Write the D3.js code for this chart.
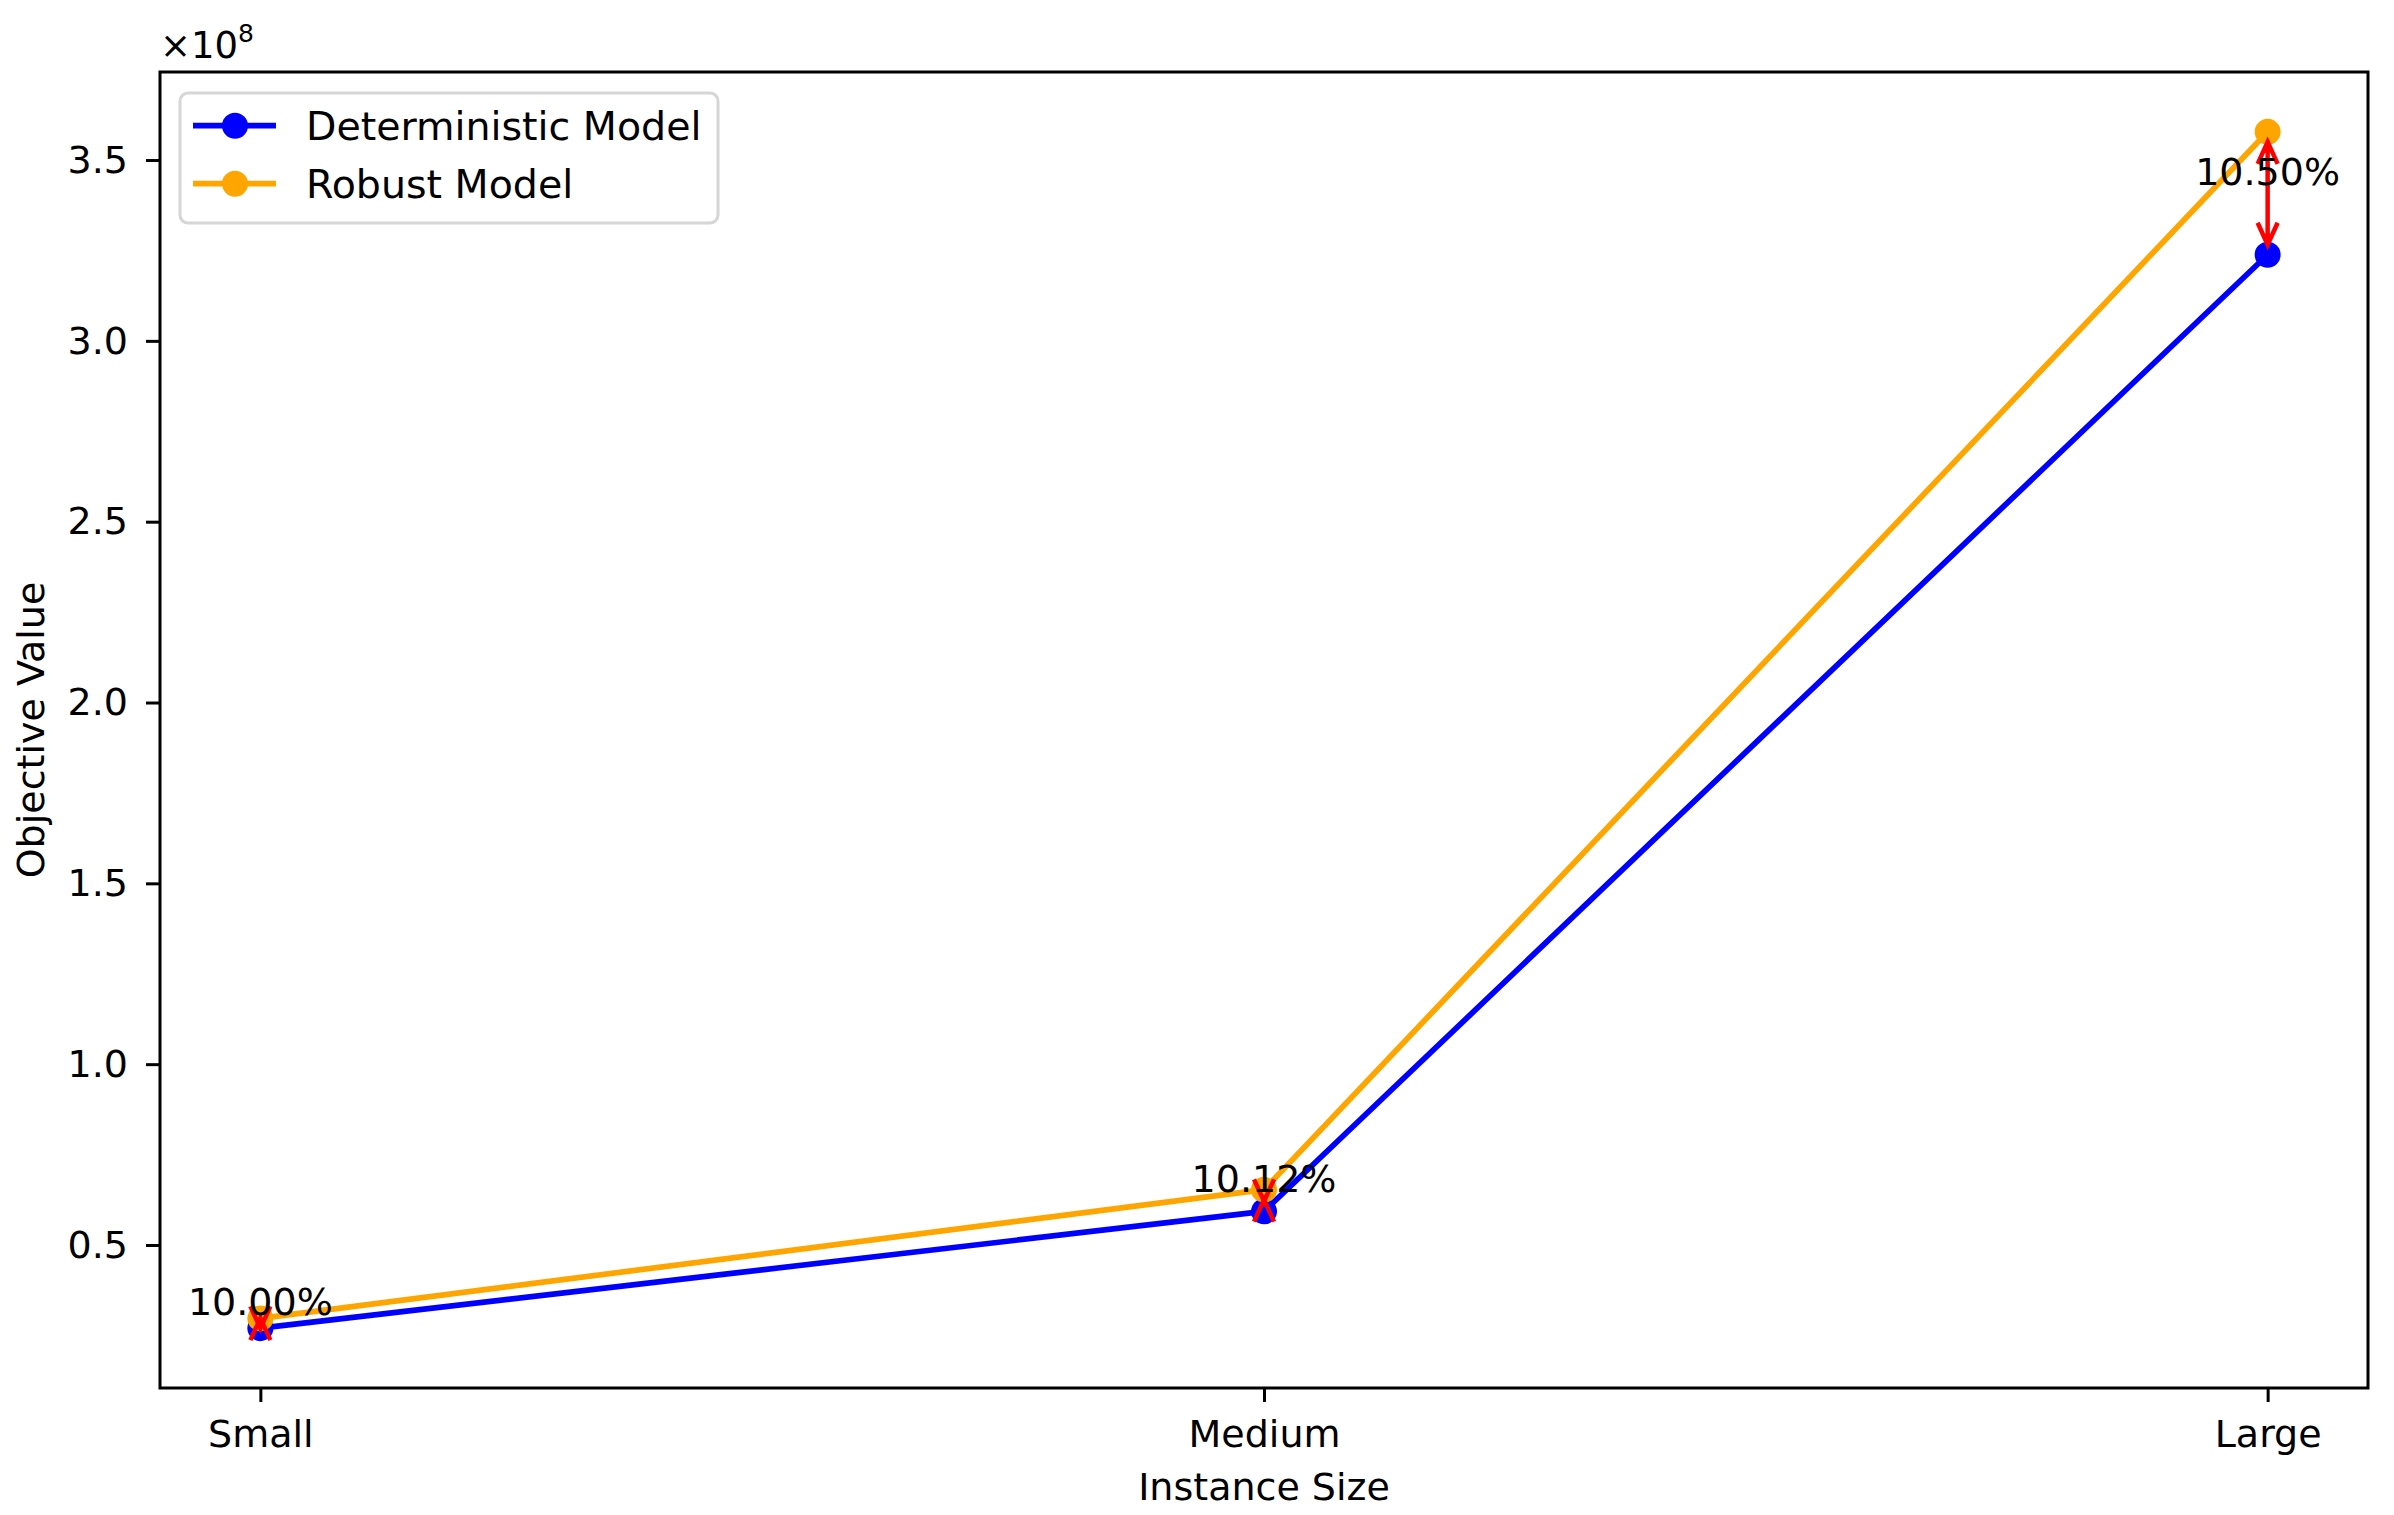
<!DOCTYPE html>
<html>
<head>
<meta charset="utf-8">
<script src="https://cdn.jsdelivr.net/npm/d3@7"></script>
<style>
body { margin: 0; background: #fff; }
text { font-family: "DejaVu Sans", sans-serif; fill: #000; }
</style>
</head>
<body>
<div class="grafico"></div>
<script>
// data (objective values)
const sizes = ["Small", "Medium", "Large"];
const deterministic = [0.27e8, 0.593e8, 3.238e8];
const robust = [0.297e8, 0.653e8, 3.578e8];
const yTicks = [0.5, 1.0, 1.5, 2.0, 2.5, 3.0, 3.5]; // x 1e8
const scaleExp = 8;

const width = 2394, height = 1515;
const plot = { left: 160, right: 2368, top: 72, bottom: 1388 };
const fontSize = 38;

const svg = d3.select(".grafico")
    .append("svg")
    .attr("width", width)
    .attr("height", height);

const x = d3.scalePoint()
    .domain(sizes)
    .range([plot.left, plot.right])
    .padding(0.1);

// matplotlib style 5% margins
const allVals = deterministic.concat(robust);
const lo = d3.min(allVals), hi = d3.max(allVals);
const pad = (hi - lo) * 0.05;
const y = d3.scaleLinear()
    .domain([lo - pad, hi + pad])
    .range([plot.bottom, plot.top]);

// axes
const xAxis = d3.axisBottom(x).tickSize(14).tickPadding(18);
const yAxis = d3.axisLeft(y)
    .tickValues(yTicks.map(t => t * Math.pow(10, scaleExp)))
    .tickFormat(d => d3.format(".1f")(d / Math.pow(10, scaleExp)))
    .tickSize(14).tickPadding(18);

const gx = svg.append("g")
    .attr("transform", `translate(0, ${plot.bottom})`)
    .call(xAxis);
const gy = svg.append("g")
    .attr("transform", `translate(${plot.left}, 0)`)
    .call(yAxis);

[gx, gy].forEach(g => {
    g.select(".domain").remove();
    g.selectAll(".tick line").attr("stroke", "#000").attr("stroke-width", 3);
    g.selectAll(".tick text")
        .style("font-family", '"DejaVu Sans", sans-serif')
        .style("font-size", fontSize + "px")
        .attr("fill", "#000");
});

// frame
svg.append("rect")
    .attr("x", plot.left)
    .attr("y", plot.top)
    .attr("width", plot.right - plot.left)
    .attr("height", plot.bottom - plot.top)
    .attr("fill", "none")
    .attr("stroke", "#000")
    .attr("stroke-width", 3);

// axis labels
svg.append("text")
    .attr("x", (plot.left + plot.right) / 2)
    .attr("y", 1500)
    .attr("text-anchor", "middle")
    .style("font-size", fontSize + "px")
    .text("Instance Size");

svg.append("text")
    .attr("transform", `translate(44, ${(plot.top + plot.bottom) / 2}) rotate(-90)`)
    .attr("text-anchor", "middle")
    .style("font-size", fontSize + "px")
    .text("Objective Value");

// offset text
const off = svg.append("text")
    .attr("x", 160)
    .attr("y", 58)
    .style("font-size", "37px");
off.append("tspan").text("\u00d710");
off.append("tspan").attr("dy", -16).style("font-size", "25px").text(scaleExp);

// series
const series = [
    { name: "Deterministic Model", values: deterministic, color: "blue" },
    { name: "Robust Model", values: robust, color: "orange" }
];

const line = d3.line()
    .x((d, i) => x(sizes[i]))
    .y(d => y(d));

series.forEach(s => {
    svg.append("path")
        .datum(s.values)
        .attr("d", line)
        .attr("fill", "none")
        .attr("stroke", s.color)
        .attr("stroke-width", 5.7)
        .attr("stroke-linejoin", "round");
    svg.selectAll(null)
        .data(s.values)
        .enter().append("circle")
        .attr("cx", (d, i) => x(sizes[i]))
        .attr("cy", d => y(d))
        .attr("r", 13)
        .attr("fill", s.color);
});

// difference arrows (<->) and percentage labels
const shrink = 10, headLen = 22, headW = 10;
function arrowPath(d, i) {
    const cx = x(sizes[i]);
    const yo = y(robust[i]), yd = y(deterministic[i]);
    const S = yo + shrink, E = yd - shrink;
    const dirS = Math.sign(S - E) || -1;
    const dirE = -dirS;
    return `M${cx - headW},${S - dirS * headLen} L${cx},${S} L${cx + headW},${S - dirS * headLen}` +
        ` M${cx},${S} L${cx},${E}` +
        ` M${cx - headW},${E - dirE * headLen} L${cx},${E} L${cx + headW},${E - dirE * headLen}`;
}

svg.selectAll(".arrow")
    .data(sizes)
    .enter().append("path")
    .attr("class", "arrow")
    .attr("d", arrowPath)
    .attr("fill", "none")
    .attr("stroke", "red")
    .attr("stroke-width", 4.5);

svg.selectAll(".pct")
    .data(sizes)
    .enter().append("text")
    .attr("class", "pct")
    .attr("x", d => x(d))
    .attr("y", (d, i) => (y(robust[i]) + y(deterministic[i])) / 2 - 8.7)
    .attr("text-anchor", "middle")
    .style("font-size", fontSize + "px")
    .text((d, i) => ((robust[i] - deterministic[i]) / deterministic[i] * 100).toFixed(2) + "%");

// legend
const legend = svg.append("g");
legend.append("rect")
    .attr("x", 180).attr("y", 93)
    .attr("width", 538).attr("height", 130)
    .attr("rx", 8)
    .attr("fill", "#fff").attr("fill-opacity", 0.8)
    .attr("stroke", "#d6d6d6").attr("stroke-width", 3);

series.forEach((s, k) => {
    const ly = 125.7 + k * 58;
    legend.append("line")
        .attr("x1", 193).attr("x2", 276)
        .attr("y1", ly).attr("y2", ly)
        .attr("stroke", s.color).attr("stroke-width", 5.7);
    legend.append("circle")
        .attr("cx", 235).attr("cy", ly).attr("r", 13)
        .attr("fill", s.color);
    legend.append("text")
        .attr("x", 306).attr("y", ly)
        .attr("dy", "0.36em")
        .style("font-size", "39.5px")
        .text(s.name);
});
</script>
</body>
</html>
